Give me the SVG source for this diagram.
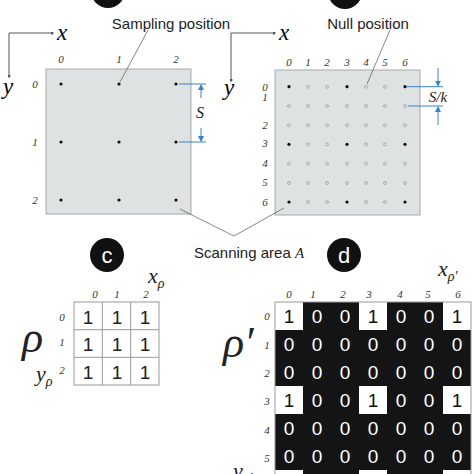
<svg xmlns="http://www.w3.org/2000/svg" width="474" height="474" viewBox="0 0 474 474">
<defs>
<style>
.sans{font-family:"Liberation Sans","DejaVu Sans",sans-serif}
.it{font-family:"Liberation Serif","DejaVu Serif",serif;font-style:italic}
.lbl{font-family:"Liberation Serif","DejaVu Serif",serif;font-style:italic;font-size:11px;fill:#333;text-anchor:middle}
.area{fill:#dfe2e2;stroke:#a9a9a9;stroke-width:1}
.ax{fill:none;stroke:#555;stroke-width:1}
.lead{fill:none;stroke:#666;stroke-width:0.8}
.dim{fill:none;stroke:#3a82c8;stroke-width:1}
.dot{fill:#111}
.null{fill:none;stroke:#999;stroke-width:0.7}
.badge{fill:#111}
.bl{fill:#fff;font-family:"Liberation Sans","DejaVu Sans",sans-serif;font-size:22px;text-anchor:middle}
.cell{fill:#fff;stroke:#999;stroke-width:1}
.n{font-family:"Liberation Sans","DejaVu Sans",sans-serif;font-size:19px;text-anchor:middle}
</style>
<marker id="ah" viewBox="0 0 6 6" refX="5" refY="3" markerWidth="6" markerHeight="6" orient="auto" markerUnits="userSpaceOnUse"><path d="M0,0 L6,3 L0,6 z" fill="#3a82c8"/></marker>
<marker id="ad" viewBox="0 0 4 4" refX="2" refY="2" markerWidth="3" markerHeight="3" orient="auto" markerUnits="userSpaceOnUse"><circle cx="2" cy="2" r="2" fill="#555"/></marker>
</defs>
<rect width="474" height="474" fill="#fff"/>

<!-- Panel a -->
<g id="badge-a"><circle class="badge" cx="108" cy="-9" r="17"/><text class="bl" x="108" y="-2">a</text></g>
<g id="axes-a">
<path class="ax" d="M52,33 H9 V76" marker-start="url(#ad)" marker-end="url(#ad)"/>
<text class="it" x="57" y="40" font-size="23">x</text>
<text class="it" x="3" y="94" font-size="23">y</text>
</g>
<g id="panel-a">
<rect class="area" x="46" y="69" width="145" height="145"/>
<g class="lbl"><text x="61" y="63">0</text><text x="119" y="63">1</text><text x="176" y="63">2</text>
<text x="35" y="88">0</text><text x="35" y="146">1</text><text x="35" y="204">2</text></g>
<g class="dot"><circle cx="61" cy="84" r="1.6"/><circle cx="119" cy="84" r="1.6"/><circle cx="176" cy="84" r="1.6"/>
<circle cx="61" cy="142" r="1.6"/><circle cx="119" cy="142" r="1.6"/><circle cx="176" cy="142" r="1.6"/>
<circle cx="61" cy="200" r="1.6"/><circle cx="119" cy="200" r="1.6"/><circle cx="176" cy="200" r="1.6"/></g>
</g>
<g id="label-sampling">
<text class="sans" x="171" y="29" font-size="15" text-anchor="middle" fill="#222">Sampling position</text>
</g>
<g id="dim-S">
<path class="dim" d="M179,84 H206 M179,142 H206"/>
<path class="dim" d="M201,98 V85" marker-end="url(#ah)"/>
<path class="dim" d="M201,128 V141" marker-end="url(#ah)"/>
<text class="it" x="200" y="118" font-size="16" text-anchor="middle" fill="#222">S</text>
</g>

<!-- Panel b -->
<g id="badge-b"><circle class="badge" cx="345" cy="-8" r="17"/><text class="bl" x="345" y="0">b</text></g>
<g id="axes-b">
<path class="ax" d="M274,33 H231 V80" marker-start="url(#ad)" marker-end="url(#ad)"/>
<text class="it" x="279" y="40" font-size="23">x</text>
<text class="it" x="224" y="95" font-size="23">y</text>
</g>
<g id="panel-b">
<rect class="area" x="275" y="70" width="145" height="145"/>
<g class="lbl"><text x="289" y="66">0</text><text x="308" y="66">1</text><text x="327" y="66">2</text><text x="347" y="66">3</text><text x="366" y="66">4</text><text x="385" y="66">5</text><text x="405" y="66">6</text>
<text x="265" y="91">0</text><text x="265" y="101">1</text><text x="265" y="129">2</text><text x="265" y="147">3</text><text x="265" y="167">4</text><text x="265" y="186">5</text><text x="265" y="206">6</text></g>
<g class="null">
<circle cx="308" cy="86.7" r="1.5"/><circle cx="327" cy="86.7" r="1.5"/><circle cx="366" cy="86.7" r="1.5"/><circle cx="385" cy="86.7" r="1.5"/>
<circle cx="289" cy="106" r="1.5"/><circle cx="308" cy="106" r="1.5"/><circle cx="327" cy="106" r="1.5"/><circle cx="347" cy="106" r="1.5"/><circle cx="366" cy="106" r="1.5"/><circle cx="385" cy="106" r="1.5"/><circle cx="405" cy="106" r="1.5"/>
<circle cx="289" cy="125.3" r="1.5"/><circle cx="308" cy="125.3" r="1.5"/><circle cx="327" cy="125.3" r="1.5"/><circle cx="347" cy="125.3" r="1.5"/><circle cx="366" cy="125.3" r="1.5"/><circle cx="385" cy="125.3" r="1.5"/><circle cx="405" cy="125.3" r="1.5"/>
<circle cx="308" cy="144.3" r="1.5"/><circle cx="327" cy="144.3" r="1.5"/><circle cx="366" cy="144.3" r="1.5"/><circle cx="385" cy="144.3" r="1.5"/>
<circle cx="289" cy="163.7" r="1.5"/><circle cx="308" cy="163.7" r="1.5"/><circle cx="327" cy="163.7" r="1.5"/><circle cx="347" cy="163.7" r="1.5"/><circle cx="366" cy="163.7" r="1.5"/><circle cx="385" cy="163.7" r="1.5"/><circle cx="405" cy="163.7" r="1.5"/>
<circle cx="289" cy="183" r="1.5"/><circle cx="308" cy="183" r="1.5"/><circle cx="327" cy="183" r="1.5"/><circle cx="347" cy="183" r="1.5"/><circle cx="366" cy="183" r="1.5"/><circle cx="385" cy="183" r="1.5"/><circle cx="405" cy="183" r="1.5"/>
<circle cx="308" cy="202" r="1.5"/><circle cx="327" cy="202" r="1.5"/><circle cx="366" cy="202" r="1.5"/><circle cx="385" cy="202" r="1.5"/>
</g>
<g class="dot">
<circle cx="289" cy="86.7" r="1.6"/><circle cx="347" cy="86.7" r="1.6"/><circle cx="405" cy="86.7" r="1.6"/>
<circle cx="289" cy="144.3" r="1.6"/><circle cx="347" cy="144.3" r="1.6"/><circle cx="405" cy="144.3" r="1.6"/>
<circle cx="289" cy="202" r="1.6"/><circle cx="347" cy="202" r="1.6"/><circle cx="405" cy="202" r="1.6"/>
</g>
</g>
<g id="label-null">
<text class="sans" x="368" y="29" font-size="15" text-anchor="middle" fill="#222">Null position</text>
</g>
<g id="dim-Sk">
<path class="dim" d="M407,86.7 H443 M408,106 H443"/>
<path class="dim" d="M438,68 V85.7" marker-end="url(#ah)"/>
<path class="dim" d="M438,125 V107" marker-end="url(#ah)"/>
<text class="it" x="438" y="102" font-size="15" text-anchor="middle" fill="#222">S/k</text>
</g>

<g id="label-scanning">
<text x="194" y="258" font-size="15" fill="#222"><tspan class="sans">Scanning area </tspan><tspan class="it">A</tspan></text>
</g>

<g id="connectors">
<path class="lead" d="M148,30 L120,82"/>
<path class="lead" d="M390,30 L367,84"/>
<path class="lead" d="M180,209 L234,236 L284,208"/>
</g>

<!-- Panel c -->
<g id="badge-c"><circle class="badge" cx="107" cy="255" r="17"/><text class="bl" x="107" y="263">c</text></g>
<g id="panel-c">
<g fill="#fff" stroke="#999" stroke-width="1">
<rect x="74" y="302" width="85" height="83"/>
<path d="M102.3,302 V385 M130.7,302 V385 M74,329.7 H159 M74,357.3 H159"/>
</g>
<g class="lbl"><text x="95" y="298">0</text><text x="117" y="298">1</text><text x="146" y="298">2</text>
<text x="62" y="321">0</text><text x="62" y="346">1</text><text x="62" y="374">2</text></g>
<g class="n" fill="#222">
<text x="88" y="323.5">1</text><text x="117" y="323.5">1</text><text x="145" y="323.5">1</text>
<text x="88" y="350.5">1</text><text x="117" y="350.5">1</text><text x="145" y="350.5">1</text>
<text x="88" y="378.5">1</text><text x="117" y="378.5">1</text><text x="145" y="378.5">1</text>
</g>
<text class="it" x="148" y="283" font-size="22" fill="#222">x<tspan font-size="14" dy="5">ρ</tspan></text>
<text class="it" x="22" y="352" font-size="44" fill="#222">ρ</text>
<text class="it" x="36" y="381" font-size="22" fill="#222">y<tspan font-size="14" dy="5">ρ</tspan></text>
</g>

<!-- Panel d -->
<g id="badge-d"><circle class="badge" cx="344" cy="255" r="17"/><text class="bl" x="344" y="263">d</text></g>
<g id="panel-d">
<rect x="275" y="302" width="196" height="200" fill="#141414"/>
<g fill="#fff">
<rect x="275" y="302" width="28" height="28"/><rect x="359" y="302" width="28" height="28"/><rect x="443" y="302" width="28" height="28"/>
<rect x="275" y="386" width="28" height="28"/><rect x="359" y="386" width="28" height="28"/><rect x="443" y="386" width="28" height="28"/>
<rect x="275" y="470" width="28" height="28"/><rect x="359" y="470" width="28" height="28"/><rect x="443" y="470" width="28" height="28"/>
</g>
<rect x="275" y="302" width="196" height="200" fill="none" stroke="#999" stroke-width="1"/>
<g class="lbl"><text x="289" y="298">0</text><text x="313" y="298">1</text><text x="343" y="298">2</text><text x="369" y="298">3</text><text x="400" y="298">4</text><text x="428" y="298">5</text><text x="458" y="298">6</text>
<text x="267" y="320">0</text><text x="267" y="349">1</text><text x="267" y="377">2</text><text x="267" y="405">3</text><text x="267" y="434">4</text><text x="267" y="462">5</text></g>
<g class="n" fill="#fff">
<text x="317" y="323">0</text><text x="345" y="323">0</text><text x="401" y="323">0</text><text x="429" y="323">0</text>
<text x="289" y="351">0</text><text x="317" y="351">0</text><text x="345" y="351">0</text><text x="373" y="351">0</text><text x="401" y="351">0</text><text x="429" y="351">0</text><text x="457" y="351">0</text>
<text x="289" y="379">0</text><text x="317" y="379">0</text><text x="345" y="379">0</text><text x="373" y="379">0</text><text x="401" y="379">0</text><text x="429" y="379">0</text><text x="457" y="379">0</text>
<text x="317" y="407">0</text><text x="345" y="407">0</text><text x="401" y="407">0</text><text x="429" y="407">0</text>
<text x="289" y="435">0</text><text x="317" y="435">0</text><text x="345" y="435">0</text><text x="373" y="435">0</text><text x="401" y="435">0</text><text x="429" y="435">0</text><text x="457" y="435">0</text>
<text x="289" y="463">0</text><text x="317" y="463">0</text><text x="345" y="463">0</text><text x="373" y="463">0</text><text x="401" y="463">0</text><text x="429" y="463">0</text><text x="457" y="463">0</text>
</g>
<g class="n" fill="#111">
<text x="289" y="323">1</text><text x="373" y="323">1</text><text x="457" y="323">1</text>
<text x="289" y="407">1</text><text x="373" y="407">1</text><text x="457" y="407">1</text>
</g>
<text class="it" x="438" y="276" font-size="22" fill="#222">x<tspan font-size="14" dy="5">ρ′</tspan></text>
<text class="it" x="223" y="357" font-size="44" fill="#222">ρ′</text>
<text class="it" x="233" y="478" font-size="22" fill="#222">y<tspan font-size="14" dy="5">ρ′</tspan></text>
</g>
</svg>
